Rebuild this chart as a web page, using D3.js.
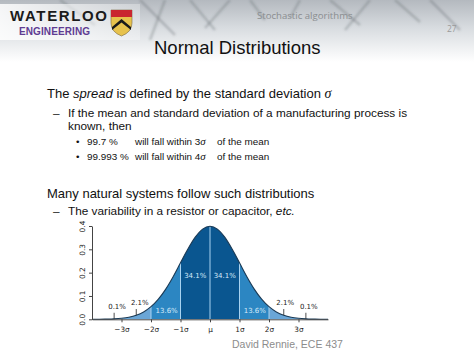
<!DOCTYPE html>
<html>
<head>
<meta charset="utf-8">
<script src="https://cdn.jsdelivr.net/npm/d3@7"></script>
<style>
  html, body { margin: 0; padding: 0; background: #fff; }
  svg { display: block; }
</style>
</head>
<body>
<div id="slide"></div>
<script>
// ---- data ----
// sigma grid and density
var sigmaGrid = [-4, -3.75, -3.5, -3.25, -3, -2.75, -2.5, -2.25, -2, -1.75, -1.5, -1.25, -1, -0.75, -0.5, -0.25,
                 0, 0.25, 0.5, 0.75, 1, 1.25, 1.5, 1.75, 2, 2.25, 2.5, 2.75, 3, 3.25, 3.5, 3.75, 4];
var density = [0.0001, 0.0004, 0.0009, 0.002, 0.0044, 0.0091, 0.0175, 0.0317, 0.054, 0.0863, 0.1295, 0.1826, 0.242, 0.3011, 0.3521, 0.3867,
               0.3989, 0.3867, 0.3521, 0.3011, 0.242, 0.1826, 0.1295, 0.0863, 0.054, 0.0317, 0.0175, 0.0091, 0.0044, 0.002, 0.0009, 0.0004, 0.0001];

var bandEdges = [-4, -3, -2, -1, 0, 1, 2, 3, 4];
var bandColors = ["#a9cbe9", "#6aa6d7", "#2c86c2", "#0a5690", "#0a5690", "#2c86c2", "#6aa6d7", "#a9cbe9"];

var sigmaTicks = [-3, -2, -1, 0, 1, 2, 3];
var sigmaLabels = ["\u22123\u03c3", "\u22122\u03c3", "\u22121\u03c3", "\u03bc", "1\u03c3", "2\u03c3", "3\u03c3"];
var yTicks = [0, 0.1, 0.2, 0.3, 0.4];

var pctText = ["0.1%", "2.1%", "13.6%", "34.1%", "34.1%", "13.6%", "2.1%", "0.1%"];
var pctX = [-3.15, -2.38, -1.47, -0.5, 0.5, 1.52, 2.55, 3.35];
var pctY = [0.051, 0.068, 0.037, 0.186, 0.186, 0.037, 0.068, 0.051];
var pointerAt = [-3.25, -2.5, null, null, null, null, 2.5, 3.25];
var pointerTop = [0.028, 0.044, null, null, null, null, 0.044, 0.028];

var bodyLines = [
  {level: 0, parts: [["The ", ""], ["spread", "i"], [" is defined by the standard deviation ", ""]], sigma: true},
  {level: 1, parts: [["If the mean and standard deviation of a manufacturing process is", ""]]},
  {level: 1, cont: true, parts: [["known, then", ""]]},
  {level: 2, pct: "99.7 %", k: "3"},
  {level: 2, pct: "99.993 %", k: "4"},
  {level: 0, parts: [["Many natural systems follow such distributions", ""]]},
  {level: 1, parts: [["The variability in a resistor or capacitor, ", ""], ["etc.", "i"]]}
];
var bodyBaselines = [97.5, 116.5, 129.5, 144.5, 160, 197.5, 214.5];

var W = 474, H = 355;

var svg = d3.select("#slide").append("svg")
  .attr("width", W)
  .attr("height", H);

var defs = svg.append("defs");

// ---- header background (photo approximated with gradients) ----
var hg = defs.append("linearGradient").attr("id", "hdr").attr("x1", 0).attr("y1", 0).attr("x2", 0).attr("y2", 1);
hg.append("stop").attr("offset", "0%").attr("stop-color", "#b4b9bf");
hg.append("stop").attr("offset", "45%").attr("stop-color", "#d8dce0");
hg.append("stop").attr("offset", "100%").attr("stop-color", "#ffffff");

defs.append("filter").attr("id", "soft")
  .append("feGaussianBlur").attr("stdDeviation", 1.2);

svg.append("rect").attr("width", W).attr("height", H).attr("fill", "#fff");
svg.append("rect").attr("width", W).attr("height", 62).attr("fill", "url(#hdr)");

// some roof struts, blurred
var struts = [[140, 0, 175, 35], [165, 0, 150, 40], [190, 0, 215, 30], [230, 0, 205, 28], [330, 0, 360, 25],
              [370, 0, 345, 30], [395, 0, 420, 22], [430, 0, 460, 30], [250, 0, 265, 20], [300, 0, 290, 18], [60, 0, 95, 25]];
svg.append("g").attr("filter", "url(#soft)").selectAll("line").data(struts).enter().append("line")
  .attr("x1", function(d) { return d[0]; }).attr("y1", function(d) { return d[1]; })
  .attr("x2", function(d) { return d[2]; }).attr("y2", function(d) { return d[3]; })
  .attr("stroke", "#5d6369").attr("stroke-width", 2.5).attr("opacity", 0.3);

var wg = defs.append("linearGradient").attr("id", "fadeL").attr("x1", 0).attr("y1", 0).attr("x2", 1).attr("y2", 0);
wg.append("stop").attr("offset", "0%").attr("stop-color", "#fff").attr("stop-opacity", 0.85);
wg.append("stop").attr("offset", "100%").attr("stop-color", "#fff").attr("stop-opacity", 0.3);
svg.append("rect").attr("x", 0).attr("y", 4).attr("width", 140).attr("height", 36).attr("fill", "url(#fadeL)");

// logo text
svg.append("text").attr("x", 10).attr("y", 21)
  .attr("font-family", "Liberation Sans, Arial, sans-serif").attr("font-weight", "bold")
  .attr("font-size", 15).attr("fill", "#1b1b1b").attr("textLength", 97)
  .text("WATERLOO");
svg.append("text").attr("x", 19).attr("y", 35)
  .attr("font-family", "Liberation Sans, Arial, sans-serif").attr("font-weight", "bold")
  .attr("font-size", 10).attr("fill", "#5f3c92").attr("textLength", 71)
  .text("ENGINEERING");

// shield
var sh = svg.append("g").attr("transform", "translate(111,10)");
sh.append("path").attr("d", "M0,0 H21 V13 Q21,22 10.5,26 Q0,22 0,13 Z").attr("fill", "#e7c24d").attr("stroke", "#7a6a40").attr("stroke-width", 0.6);
sh.append("path").attr("d", "M0,0 H21 V7 H0 Z").attr("fill", "#c9262f");
sh.append("path").attr("d", "M1,17 L10.5,9 L20,17 L20,20 L10.5,12.5 L1,20 Z").attr("fill", "#1a1a1a");

svg.append("text").attr("x", 257).attr("y", 18.5)
  .attr("font-family", "Open Sans, sans-serif").attr("font-size", 9.6).attr("fill", "#8a8d90")
  .text("Stochastic algorithms");
svg.append("text").attr("x", 447).attr("y", 31.5)
  .attr("font-family", "Open Sans, sans-serif").attr("font-size", 8.5).attr("fill", "#9a9a9a")
  .text("27");

// title
svg.append("text").attr("x", 154).attr("y", 54)
  .attr("font-family", "Liberation Sans, Arial, sans-serif").attr("font-size", 18.5).attr("fill", "#111")
  .text("Normal Distributions");

// ---- body text ----
var sizes = [13, 11.8, 9.9];
var textX = [47, 68, 87];
var body = svg.append("g").attr("font-family", "Liberation Sans, Arial, sans-serif").attr("fill", "#111");

bodyLines.forEach(function(ln, i) {
  var y = bodyBaselines[i];
  var fs = sizes[ln.level];
  if (ln.level === 1 && !ln.cont) {
    body.append("text").attr("x", 53).attr("y", y).attr("font-size", fs).text("\u2013");
  }
  if (ln.level === 2) {
    body.append("text").attr("x", 76).attr("y", y).attr("font-size", fs).text("\u2022");
    body.append("text").attr("x", 87).attr("y", y).attr("font-size", fs).text(ln.pct);
    var t = body.append("text").attr("x", 135).attr("y", y).attr("font-size", fs);
    t.append("tspan").text("will fall within " + ln.k);
    t.append("tspan").attr("font-family", "Liberation Serif, serif").attr("font-style", "italic")
      .attr("font-size", fs + 1).text("\u03c3");
    body.append("text").attr("x", 217).attr("y", y).attr("font-size", fs).text("of the mean");
    return;
  }
  var tx = body.append("text").attr("x", textX[ln.level]).attr("y", y).attr("font-size", fs)
    .attr("xml:space", "preserve");
  ln.parts.forEach(function(p) {
    tx.append("tspan").attr("font-style", p[1] === "i" ? "italic" : null).text(p[0]);
  });
  if (ln.sigma) {
    tx.append("tspan").attr("font-family", "Liberation Serif, serif").attr("font-style", "italic")
      .attr("font-size", fs + 1).text("\u03c3");
  }
});

svg.append("text").attr("x", 232).attr("y", 347.5)
  .attr("font-family", "Liberation Sans, Arial, sans-serif").attr("font-size", 10.5).attr("fill", "#8c8c8c")
  .text("David Rennie, ECE 437");

// ---- the bell curve chart ----
var x = d3.scaleLinear().domain([-4, 4]).range([92, 328]);
var y = d3.scaleLinear().domain([0, 0.4]).range([319.3, 226]);

var pts = sigmaGrid.map(function(s, i) { return {s: s, p: density[i]}; });

var area = d3.area()
  .x(function(d) { return x(d.s); })
  .y0(y(0))
  .y1(function(d) { return y(d.p); })
  .curve(d3.curveMonotoneX);

var line = d3.line()
  .x(function(d) { return x(d.s); })
  .y(function(d) { return y(d.p); })
  .curve(d3.curveMonotoneX);

var chart = svg.append("g").attr("class", "chart");

// one clipped copy of the area per sigma band
var bands = d3.range(bandEdges.length - 1).map(function(i) {
  return {a: bandEdges[i], b: bandEdges[i + 1], c: bandColors[i], i: i};
});

defs.selectAll("clipPath.band").data(bands).enter().append("clipPath")
  .attr("class", "band")
  .attr("id", function(d) { return "band" + d.i; })
  .append("rect")
  .attr("x", function(d) { return x(d.a); })
  .attr("width", function(d) { return x(d.b) - x(d.a); })
  .attr("y", y(0.45))
  .attr("height", y(0) - y(0.45));

chart.selectAll("path.band").data(bands).enter().append("path")
  .attr("class", "band")
  .attr("clip-path", function(d) { return "url(#band" + d.i + ")"; })
  .attr("d", area(pts))
  .attr("fill", function(d) { return d.c; });

// light dividers at each sigma
var dividers = pts.filter(function(d) { return sigmaTicks.indexOf(d.s) >= 0; });
chart.selectAll("line.div").data(dividers).enter().append("line")
  .attr("class", "div")
  .attr("x1", function(d) { return x(d.s); })
  .attr("x2", function(d) { return x(d.s); })
  .attr("y1", y(0))
  .attr("y2", function(d) { return y(d.p); })
  .attr("stroke", "#a8d2f0")
  .attr("stroke-width", 1);

chart.append("path")
  .attr("d", line(pts))
  .attr("fill", "none")
  .attr("stroke", "#1b3a55")
  .attr("stroke-width", 1.1);

// axes
var xAxis = d3.axisBottom(x)
  .tickValues(sigmaTicks)
  .tickFormat(function(d, i) { return sigmaLabels[i]; })
  .tickSize(3)
  .tickSizeOuter(0)
  .tickPadding(5);

var yAxis = d3.axisLeft(y)
  .tickValues(yTicks)
  .tickFormat(d3.format(".1f"))
  .tickSize(3)
  .tickSizeOuter(0);

var gx = chart.append("g").attr("transform", "translate(0," + y(0) + ")").call(xAxis);
var gy = chart.append("g").attr("transform", "translate(" + x(-4) + ",0)").call(yAxis);

[gx, gy].forEach(function(g) {
  g.selectAll(".domain").attr("stroke", "#444");
  g.selectAll(".tick line").attr("stroke", "#444");
  g.selectAll("text").attr("font-family", "DejaVu Sans, sans-serif").attr("fill", "#222");
});
gx.selectAll("text").attr("font-size", 7.3);
gy.selectAll("text")
  .attr("font-size", 7.4)
  .attr("text-anchor", "middle")
  .attr("x", 0)
  .attr("y", -7.5)
  .attr("dy", 0)
  .attr("transform", "rotate(-90)");

// percentage labels
var labels = pctText.map(function(t, i) {
  return {t: t, s: pctX[i], p: pctY[i], ps: pointerAt[i], pt: pointerTop[i]};
});

chart.selectAll("line.ptr").data(labels.filter(function(d) { return d.ps !== null; })).enter().append("line")
  .attr("class", "ptr")
  .attr("x1", function(d) { return x(d.ps); })
  .attr("x2", function(d) { return x(d.ps); })
  .attr("y1", function(d) { return y(d.pt); })
  .attr("y2", function(d) { return y(density[sigmaGrid.indexOf(d.ps)]); })
  .attr("stroke", "#222")
  .attr("stroke-width", 0.8);

chart.selectAll("text.pct").data(labels).enter().append("text")
  .attr("class", "pct")
  .attr("x", function(d) { return x(d.s); })
  .attr("y", function(d) { return y(d.p); })
  .attr("text-anchor", "middle")
  .attr("dominant-baseline", "central")
  .attr("font-family", "DejaVu Sans, sans-serif")
  .attr("font-size", 7)
  .attr("fill", function(d) { return Math.abs(d.s) < 2 ? "#d6ebfa" : "#222"; })
  .text(function(d) { return d.t; });
</script>
</body>
</html>
